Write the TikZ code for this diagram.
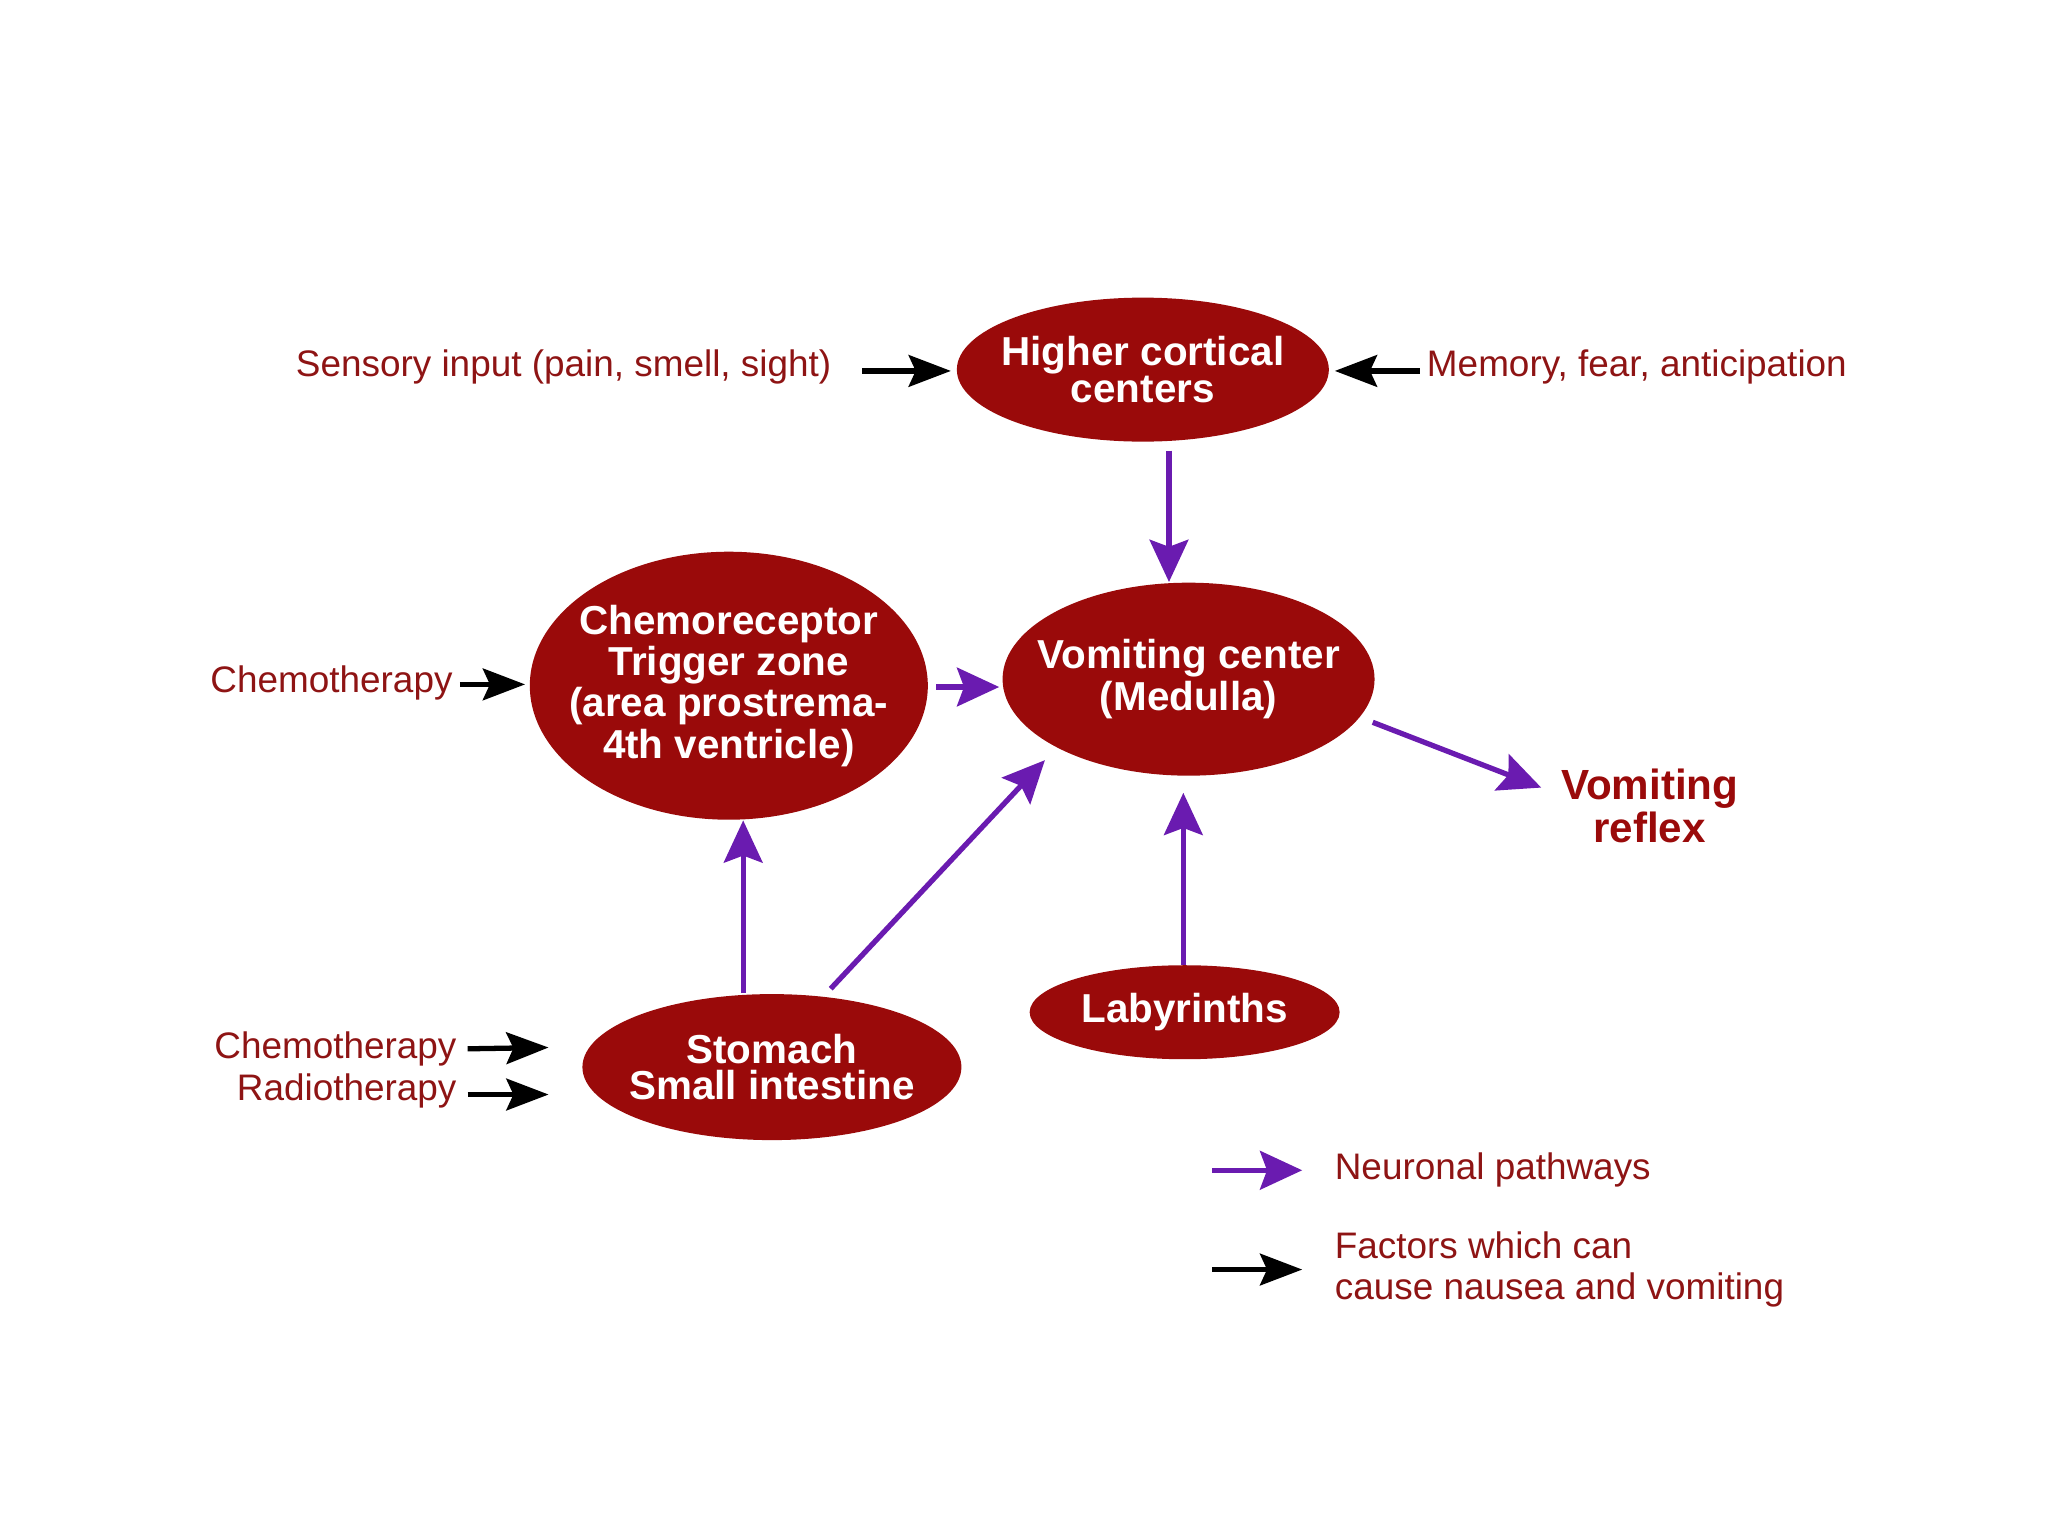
\documentclass[tikz,border=0pt]{standalone}
\usepackage{fontspec}
\setmainfont{Liberation Sans}
\usepackage{tikz}
\usetikzlibrary{shapes.geometric, arrows.meta}
\definecolor{darkred}{HTML}{9A0A0A}
\definecolor{labelred}{HTML}{8E1414}
\definecolor{pathpurple}{HTML}{6A1BB0}
\tikzstyle{center} = [ellipse, fill=darkred, inner xsep=-0.9cm, inner ysep=-0.35cm, text=white, align=center, font=\fontsize{11.5}{10.5}\selectfont\bfseries]
\tikzstyle{factor} = [text=labelred, inner sep=0pt, align=right, font=\fontsize{10.5}{11.5}\selectfont]
\tikzstyle{neuro} = [line width=1.5pt, draw=pathpurple, -{Stealth[length=12pt, width=11pt, inset=2pt]}]
\tikzstyle{cause} = [line width=1.5pt, draw=black, -{Stealth[length=12pt, width=9pt, inset=2pt]}]

\begin{document}
\begin{tikzpicture}[x=0.01306cm, y=-0.01306cm]
    \useasboundingbox (0,0) rectangle (1568,1176);
    \node (hcc) [center, minimum width=3.72cm, minimum height=1.44cm] at (875,283) {Higher cortical\\centers};
    \node (ctz) [center, minimum width=3.98cm, minimum height=2.68cm] at (558,525) {Chemoreceptor\\Trigger zone\\(area prostrema-\\4th ventricle)};
    \node (vc) [center, minimum width=3.72cm, minimum height=1.93cm] at (910,520) {Vomiting center\\(Medulla)};
    \node (gut) [center, minimum width=3.79cm, minimum height=1.46cm] at (591,817) {Stomach\\Small intestine};
    \node (lab) [center, minimum width=3.10cm, minimum height=0.94cm] at (907,775) {Labyrinths};
    \node (reflex) [text=darkred, align=center, font=\fontsize{12}{10.5}\selectfont\bfseries] at (1263,617) {Vomiting\\reflex};

    \node (sens) [factor, anchor=east] at (637,281) {Sensory input (pain, smell, sight)};
    \node (mem) [factor, anchor=west] at (1092,281) {Memory, fear, anticipation};
    \node (chemo1) [factor, anchor=east] at (347,523) {Chemotherapy};
    \node (chemo2) [factor, anchor=east] at (350,803) {Chemotherapy};
    \node (radio) [factor, anchor=east] at (350,835) {Radiotherapy};

    \draw [cause] (sens.east) ++(23,3) -- (728,284);
    \draw [cause] (mem.west) ++(-5,3) -- (1022,284);
    \draw [cause] (chemo1.east) ++(5,1) -- (402,524);
    \draw [cause] (chemo2.east) ++(8,0) -- (420,802);
    \draw [cause] (radio.east) ++(8,3) -- (420,838);

    \draw [neuro] (895,345) -- (vc.north -| 895,0);
    \draw [neuro] (ctz.east) ++(6,1) -- (765,526);
    \draw [neuro] (1051,553) -- (1180,603);
    \draw [neuro] (gut.north -| 569,0) -- (ctz.south -| 569,0);
    \draw [neuro] (636,757) -- (800,582);
    \draw [neuro] (lab.north -| 906,0) -- (906,607);

    % legend
    \coordinate (np) at (928,896);
    \coordinate (fc) at (928,972);
    \draw [neuro] (np) -- ++(69,0) node (nptext) [factor, anchor=west, xshift=0.3cm] {Neuronal pathways};
    \draw [cause] (fc) -- ++(69,0) node (fctext) [factor, anchor=west, align=left, xshift=0.3cm] {Factors which can\\cause nausea and vomiting};
\end{tikzpicture}
\end{document}
